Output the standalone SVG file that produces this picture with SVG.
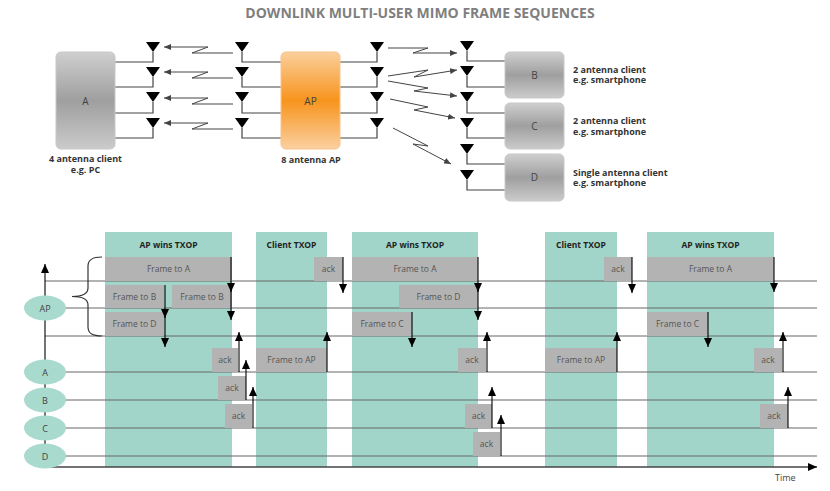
<svg xmlns="http://www.w3.org/2000/svg" width="830" height="491" viewBox="0 0 830 491">
<defs>
<style>
text{font-family:"Open Sans","Liberation Sans",sans-serif}
.title{font-size:14px;font-weight:bold;fill:#7f7f7f}
.lbl{font-size:9px;font-weight:bold;fill:#333}
.nl{font-size:10px;fill:#444}
.bt{font-size:8.5px;fill:#555;text-anchor:middle}
.th{font-size:8.5px;font-weight:bold;fill:#222;text-anchor:middle}
.el{font-size:9px;fill:#444;text-anchor:middle}
.box{fill:#b3b3b3}
.teal{fill:#a2d5c9}
.ell{fill:#a8dacd}
.hl{stroke:#666;stroke-width:1;fill:none}
.arr{stroke:#000;stroke-width:1.1;fill:none;marker-end:url(#ah)}
.ant{fill:#000}
.wire{stroke:#444;stroke-width:1.2;fill:none}
.zz{stroke:#444;stroke-width:1;fill:none;marker-end:url(#ah2)}
</style>
<marker id="ah" markerUnits="userSpaceOnUse" markerWidth="9" markerHeight="8" refX="9" refY="4" orient="auto"><path d="M0,0 L9,4 L0,8 z" fill="#000"/></marker>
<marker id="ah2" markerUnits="userSpaceOnUse" markerWidth="7" markerHeight="6" refX="7" refY="3" orient="auto"><path d="M0,0 L7,3 L0,6 z" fill="#444"/></marker>
<linearGradient id="gg" x1="0" y1="0" x2="0" y2="1">
<stop offset="0" stop-color="#cfcfcf"/><stop offset="0.5" stop-color="#9f9f9f"/><stop offset="1" stop-color="#cbcbcb"/>
</linearGradient>
<linearGradient id="og" x1="0" y1="0" x2="0" y2="1">
<stop offset="0" stop-color="#fbcf9c"/><stop offset="0.5" stop-color="#f7941d"/><stop offset="1" stop-color="#fbd0a0"/>
</linearGradient>
</defs>
<rect width="830" height="491" fill="#fff"/>
<text class="title" x="420" y="17.5" text-anchor="middle">DOWNLINK MULTI-USER MIMO FRAME SEQUENCES</text>

<g id="connectors">
<path class="wire" d="M115,62H153V52M115,87H153V77M115,113H153V102M115,138H153V128"/>
<path class="wire" d="M281,62H242V52M281,87H242V77M281,113H242V102M281,138H242V128"/>
<path class="wire" d="M340,62H377V52M340,87H377V77M340,113H377V102M340,138H377V128"/>
<path class="wire" d="M505,61H467V51M505,87H467V76M505,113H467V102M505,138H467V128M505,164H467V154M505,190H467V180"/>
<g class="ant">
<polygon points="146,42 160,42 153,52"/><polygon points="146,67 160,67 153,77"/><polygon points="146,92 160,92 153,102"/><polygon points="146,118 160,118 153,128"/>
<polygon points="235,42 249,42 242,52"/><polygon points="235,67 249,67 242,77"/><polygon points="235,92 249,92 242,102"/><polygon points="235,118 249,118 242,128"/>
<polygon points="370,42 384,42 377,52"/><polygon points="370,67 384,67 377,77"/><polygon points="370,92 384,92 377,102"/><polygon points="370,118 384,118 377,128"/>
<polygon points="460,41 474,41 467,51"/><polygon points="460,66 474,66 467,76"/><polygon points="460,92 474,92 467,102"/><polygon points="460,118 474,118 467,128"/><polygon points="460,144 474,144 467,154"/><polygon points="460,170 474,170 467,180"/>
</g>
<path class="zz" d="M233,53H192L208,47H164"/>
<path class="zz" d="M233,78H192L208,72H164"/>
<path class="zz" d="M233,104H192L208,98H164"/>
<path class="zz" d="M233,129H192L208,123H164"/>
<path class="zz" d="M388,48L428,48L413,53L457,53"/>
<path class="zz" d="M388,76L428,70L414,77L457,70"/>
<path class="zz" d="M388,81L428,88L414,91L457,96"/>
<path class="zz" d="M390,99L428,107L414,110L455,118"/>
<path class="zz" d="M393,128L428,146L413,144L451,164"/>
</g>

<g id="node-A"><rect x="56" y="52" width="59" height="97" rx="5" fill="url(#gg)" stroke="#c8c8c8"/><text class="nl" x="85.5" y="104.5" text-anchor="middle">A</text>
<text class="lbl" x="85.5" y="162" text-anchor="middle">4 antenna client</text><text class="lbl" x="85.5" y="172.5" text-anchor="middle">e.g. PC</text></g>
<g id="node-AP"><rect x="281" y="52" width="59" height="97" rx="5" fill="url(#og)" stroke="#f9c38a"/><text class="nl" x="310.5" y="104.5" text-anchor="middle">AP</text>
<text class="lbl" x="311" y="163" text-anchor="middle">8 antenna AP</text></g>
<g id="node-B"><rect x="505" y="52" width="59" height="46" rx="5" fill="url(#gg)" stroke="#c8c8c8"/><text class="nl" x="534.5" y="78.5" text-anchor="middle">B</text>
<text class="lbl" x="573" y="72.5">2 antenna client</text><text class="lbl" x="573" y="83">e.g. smartphone</text></g>
<g id="node-C"><rect x="505" y="103" width="59" height="46" rx="5" fill="url(#gg)" stroke="#c8c8c8"/><text class="nl" x="534.5" y="129.5" text-anchor="middle">C</text>
<text class="lbl" x="573" y="124">2 antenna client</text><text class="lbl" x="573" y="134.5">e.g. smartphone</text></g>
<g id="node-D"><rect x="505" y="154" width="59" height="47" rx="5" fill="url(#gg)" stroke="#c8c8c8"/><text class="nl" x="534.5" y="181" text-anchor="middle">D</text>
<text class="lbl" x="573" y="175.5">Single antenna client</text><text class="lbl" x="573" y="186">e.g. smartphone</text></g>

<g id="txop-regions">
<rect class="teal" x="105" y="232" width="127" height="235"/><text class="th" x="168.5" y="248">AP wins TXOP</text>
<rect class="teal" x="256" y="232" width="71" height="235"/><text class="th" x="291.5" y="248">Client TXOP</text>
<rect class="teal" x="352" y="232" width="126" height="235"/><text class="th" x="415" y="248">AP wins TXOP</text>
<rect class="teal" x="545" y="232" width="72" height="235"/><text class="th" x="581" y="248">Client TXOP</text>
<rect class="teal" x="647" y="232" width="127" height="235"/><text class="th" x="710.5" y="248">AP wins TXOP</text>
</g>
<g id="timeline-lines">
<path class="hl" d="M45,281H817M45,308H817M45,336H817M45,372H817M45,400H817M45,428H817M45,456H817"/>
<path d="M102,257C93,257 88,259 88,266V288C88,294 83,296.5 72,296.5C83,296.5 88,299 88,305V327C88,334 93,336 102,336" stroke="#333" stroke-width="1.2" fill="none"/>
<line x1="45" y1="467" x2="45" y2="264" class="arr" stroke="#333"/>
<line x1="45" y1="467" x2="817" y2="467" stroke="#444" stroke-width="1.3" marker-end="url(#ah)"/>
<text x="775" y="481" font-size="9" fill="#444">Time</text>
</g>
<g id="stations">
<g id="st-AP"><ellipse class="ell" cx="45" cy="308" rx="21" ry="12.5"/><text class="el" x="45" y="311.5">AP</text></g>
<g id="st-A"><ellipse class="ell" cx="45" cy="372" rx="21" ry="12.5"/><text class="el" x="45" y="375.5">A</text></g>
<g id="st-B"><ellipse class="ell" cx="45" cy="400" rx="21" ry="12.5"/><text class="el" x="45" y="403.5">B</text></g>
<g id="st-C"><ellipse class="ell" cx="45" cy="428" rx="21" ry="12.5"/><text class="el" x="45" y="431.5">C</text></g>
<g id="st-D"><ellipse class="ell" cx="45" cy="456" rx="21" ry="12.5"/><text class="el" x="45" y="459.5">D</text></g>
</g>
<g id="frames">
<rect class="box" x="105" y="257" width="127" height="24"/><text class="bt" x="168.5" y="272">Frame to A</text>
<rect class="box" x="105" y="285" width="59" height="23"/><text class="bt" x="134.5" y="299.5">Frame to B</text>
<rect class="box" x="172" y="285" width="60" height="23"/><text class="bt" x="202" y="299.5">Frame to B</text>
<rect class="box" x="105" y="312" width="59" height="24"/><text class="bt" x="134.5" y="327">Frame to D</text>
<rect class="box" x="212" y="348" width="26" height="24"/><text class="bt" x="225" y="363">ack</text>
<rect class="box" x="218" y="376" width="28" height="24"/><text class="bt" x="232" y="391">ack</text>
<rect class="box" x="225" y="404" width="27" height="24"/><text class="bt" x="238.5" y="419">ack</text>

<rect class="box" x="314" y="257" width="29" height="24"/><text class="bt" x="328.5" y="272">ack</text>
<rect class="box" x="256" y="348" width="71" height="24"/><text class="bt" x="291.5" y="363">Frame to AP</text>

<rect class="box" x="352" y="257" width="126" height="24"/><text class="bt" x="415" y="272">Frame to A</text>
<rect class="box" x="399" y="285" width="79" height="23"/><text class="bt" x="438.5" y="299.5">Frame to D</text>
<rect class="box" x="352" y="312" width="60" height="24"/><text class="bt" x="382" y="327">Frame to C</text>
<rect class="box" x="458" y="348" width="28" height="24"/><text class="bt" x="472" y="363">ack</text>
<rect class="box" x="465" y="404" width="27" height="24"/><text class="bt" x="478.5" y="419">ack</text>
<rect class="box" x="473" y="432" width="27" height="24"/><text class="bt" x="486.5" y="447">ack</text>

<rect class="box" x="604" y="257" width="28" height="24"/><text class="bt" x="618" y="272">ack</text>
<rect class="box" x="545" y="348" width="72" height="24"/><text class="bt" x="581" y="363">Frame to AP</text>

<rect class="box" x="647" y="257" width="127" height="24"/><text class="bt" x="710.5" y="272">Frame to A</text>
<rect class="box" x="647" y="312" width="61" height="24"/><text class="bt" x="677.5" y="327">Frame to C</text>
<rect class="box" x="754" y="348" width="28" height="24"/><text class="bt" x="768" y="363">ack</text>
<rect class="box" x="760" y="404" width="28" height="24"/><text class="bt" x="774" y="419">ack</text>
</g>
<g id="frame-arrows">
<line class="arr" x1="231" y1="257" x2="231" y2="292"/>
<line class="arr" x1="231" y1="285" x2="231" y2="320"/>
<line class="arr" x1="165" y1="285" x2="165" y2="318"/>
<line class="arr" x1="165" y1="312" x2="165" y2="347"/>
<line class="arr" x1="239" y1="372" x2="239" y2="332"/>
<line class="arr" x1="246" y1="400" x2="246" y2="360"/>
<line class="arr" x1="253" y1="428" x2="253" y2="387"/>
<line class="arr" x1="343" y1="257" x2="343" y2="293"/>
<line class="arr" x1="327" y1="372" x2="327" y2="332"/>
<line class="arr" x1="478" y1="257" x2="478" y2="292"/>
<line class="arr" x1="478" y1="285" x2="478" y2="320"/>
<line class="arr" x1="412" y1="312" x2="412" y2="347"/>
<line class="arr" x1="487" y1="372" x2="487" y2="332"/>
<line class="arr" x1="492" y1="428" x2="492" y2="387"/>
<line class="arr" x1="501" y1="456" x2="501" y2="415"/>
<line class="arr" x1="632" y1="257" x2="632" y2="293"/>
<line class="arr" x1="617" y1="372" x2="617" y2="332"/>
<line class="arr" x1="774" y1="257" x2="774" y2="292"/>
<line class="arr" x1="708" y1="312" x2="708" y2="347"/>
<line class="arr" x1="783" y1="372" x2="783" y2="332"/>
<line class="arr" x1="788" y1="428" x2="788" y2="387"/>
</g>
</svg>
